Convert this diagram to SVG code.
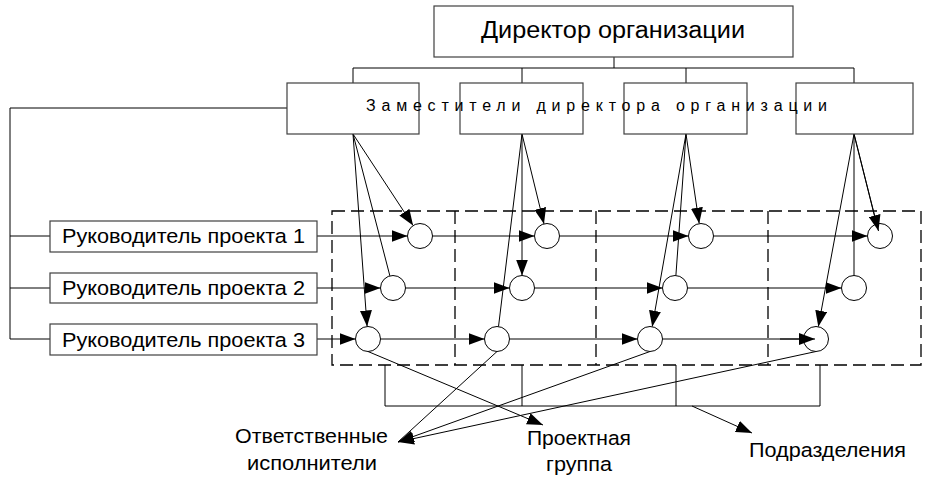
<svg xmlns="http://www.w3.org/2000/svg" width="937" height="480" viewBox="0 0 937 480">
<defs>
<marker id="ah" markerUnits="userSpaceOnUse" markerWidth="17" markerHeight="12" refX="16" refY="6" orient="auto">
<path d="M0,0 L16,6 L0,12 z" fill="#000"/>
</marker>
<style>
.box{fill:#fff;stroke:#404040;stroke-width:1.2}
.ln{fill:none;stroke:#000;stroke-width:1}
.ar{fill:none;stroke:#000;stroke-width:1;marker-end:url(#ah)}
.dash{fill:none;stroke:#000;stroke-width:1.3;stroke-dasharray:13 6}
.c{fill:#fff;stroke:#000;stroke-width:1}
.t{font-family:"Liberation Sans",Arial,sans-serif;fill:#000}
</style>
</defs>
<rect width="937" height="480" fill="#fff"/>

<g id="departments">
<rect class="dash" x="332" y="211" width="589" height="154"/>
<line class="dash" x1="455" y1="211" x2="455" y2="365"/>
<line class="dash" x1="596" y1="211" x2="596" y2="365"/>
<line class="dash" x1="768" y1="211" x2="768" y2="365"/>
</g>

<g id="connectors">
<path class="ln" d="M614,57 V68 M353,68 H854 M353,68 V83 M522,68 V83 M686,68 V83 M854,68 V83"/>
<path class="ln" d="M287,108 H10 V339 M10,236 H50 M10,288 H50 M10,339 H50"/>
<line class="ar" x1="317" y1="236" x2="407.5" y2="236"/>
<line class="ar" x1="432.5" y1="236" x2="534.5" y2="236"/>
<line class="ar" x1="559.5" y1="236" x2="688.5" y2="236"/>
<line class="ar" x1="713.5" y1="236" x2="867.5" y2="236"/>
<line class="ar" x1="317" y1="288" x2="380.5" y2="288"/>
<line class="ar" x1="405.5" y1="288" x2="509.5" y2="288"/>
<line class="ar" x1="534.5" y1="288" x2="662.5" y2="288"/>
<line class="ar" x1="687.5" y1="288" x2="841.5" y2="288"/>
<line class="ar" x1="317" y1="339" x2="355.5" y2="339"/>
<line class="ar" x1="380.5" y1="339" x2="484.5" y2="339"/>
<line class="ar" x1="509.5" y1="339" x2="637.5" y2="339"/>
<line class="ln" x1="662.5" y1="339" x2="803.5" y2="339"/>
<line class="ar" x1="353" y1="134" x2="413.1" y2="225.5"/>
<line class="ln" x1="353" y1="134" x2="389.9" y2="275.9"/>
<line class="ar" x1="353" y1="134" x2="367.1" y2="326.5"/>
<line class="ar" x1="522" y1="134" x2="544" y2="223.9"/>
<line class="ar" x1="522" y1="134" x2="522" y2="275.5"/>
<line class="ln" x1="522" y1="134" x2="498.5" y2="326.6"/>
<line class="ar" x1="686" y1="134" x2="699.2" y2="223.6"/>
<line class="ln" x1="686" y1="134" x2="675.9" y2="275.5"/>
<line class="ar" x1="686" y1="134" x2="652.2" y2="326.7"/>
<line class="ln" x1="854" y1="134" x2="876" y2="222"/>
<line class="ln" x1="854" y1="134" x2="854" y2="275.5"/>
<line class="ar" x1="854" y1="134" x2="818.3" y2="326.7"/>
<path class="ln" d="M385,365 V406 H820 V365 M522,365 V406 M676,365 V406"/>
<line class="ar" x1="368" y1="351.5" x2="543" y2="425"/>
<line class="ln" x1="497" y1="351.5" x2="398" y2="442"/>
<line class="ar" x1="650" y1="351.5" x2="398" y2="442"/>
<line class="ar" x1="816" y1="351.5" x2="398" y2="442"/>
<line class="ar" x1="692" y1="406" x2="752" y2="433"/>
</g>

<g id="circles">
<circle class="c" cx="420" cy="236" r="12.5"/>
<circle class="c" cx="547" cy="236" r="12.5"/>
<circle class="c" cx="701" cy="236" r="12.5"/>
<circle class="c" cx="880" cy="236" r="12.5"/>
<circle class="c" cx="393" cy="288" r="12.5"/>
<circle class="c" cx="522" cy="288" r="12.5"/>
<circle class="c" cx="675" cy="288" r="12.5"/>
<circle class="c" cx="854" cy="288" r="12.5"/>
<circle class="c" cx="368" cy="339" r="12.5"/>
<circle class="c" cx="497" cy="339" r="12.5"/>
<circle class="c" cx="650" cy="339" r="12.5"/>
<circle class="c" cx="816" cy="339" r="12.5"/>
</g>
<g id="overlay-arrows">
<line class="ar" x1="854" y1="134" x2="878.5" y2="231"/>
<line class="ar" x1="780" y1="339" x2="815" y2="339"/>
</g>

<g id="director">
<rect class="box" x="434" y="6" width="359" height="51"/>
<text class="t" x="481" y="38" font-size="23" textLength="264" lengthAdjust="spacingAndGlyphs">Директор организации</text>
</g>

<g id="deputies">
<rect class="box" x="287" y="83" width="132" height="51"/>
<rect class="box" x="460" y="83" width="123" height="51"/>
<rect class="box" x="624" y="83" width="123" height="51"/>
<rect class="box" x="796" y="83" width="117" height="51"/>
<text class="t" x="366" y="111" font-size="16" textLength="461" lengthAdjust="spacing">Заместители директора организации</text>
</g>

<g id="pm1">
<rect class="box" x="50" y="221" width="267" height="31"/>
<text class="t" x="62" y="243" font-size="20.5" textLength="243" lengthAdjust="spacingAndGlyphs">Руководитель проекта 1</text>
</g>
<g id="pm2">
<rect class="box" x="50" y="273" width="267" height="30"/>
<text class="t" x="62" y="295" font-size="20.5" textLength="243" lengthAdjust="spacingAndGlyphs">Руководитель проекта 2</text>
</g>
<g id="pm3">
<rect class="box" x="50" y="324" width="267" height="31"/>
<text class="t" x="62" y="347" font-size="20.5" textLength="243" lengthAdjust="spacingAndGlyphs">Руководитель проекта 3</text>
</g>

<g id="labels">
<text class="t" x="235" y="443" font-size="20.5" textLength="153" lengthAdjust="spacingAndGlyphs">Ответственные</text>
<text class="t" x="247" y="470" font-size="20.5" textLength="130" lengthAdjust="spacingAndGlyphs">исполнители</text>
<text class="t" x="527" y="445" font-size="20.5" textLength="104" lengthAdjust="spacingAndGlyphs">Проектная</text>
<text class="t" x="546" y="471" font-size="20.5" textLength="66" lengthAdjust="spacingAndGlyphs">группа</text>
<text class="t" x="749" y="457" font-size="20.5" textLength="157" lengthAdjust="spacingAndGlyphs">Подразделения</text>
</g>
</svg>
